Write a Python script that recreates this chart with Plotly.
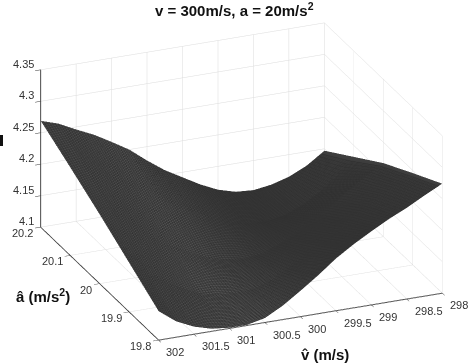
import plotly.graph_objects as go

title_text = "v = 300m/s, a = 20m/s<sup>2</sup>"
v_label = "v&#770; (m/s)"
a_label = "a&#770; (m/s<sup>2</sup>)"

v_values = [302, 301.75, 301.5, 301.25, 301, 300.75, 300.5, 300.25, 300, 299.75, 299.5, 299.25, 299, 298.75, 298.5, 298.25, 298]
a_values = [19.8, 19.9, 20.0, 20.1, 20.2]

z_a198 = [4.146, 4.125, 4.112, 4.104, 4.101, 4.101, 4.107, 4.122, 4.141, 4.161, 4.183, 4.201, 4.217, 4.232, 4.245, 4.26, 4.274]
z_a199 = [4.178, 4.158, 4.14, 4.124, 4.111, 4.104, 4.102, 4.104, 4.113, 4.128, 4.146, 4.164, 4.183, 4.2, 4.216, 4.232, 4.246]
z_a200 = [4.21, 4.195, 4.178, 4.16, 4.143, 4.127, 4.114, 4.105, 4.102, 4.104, 4.114, 4.128, 4.145, 4.163, 4.182, 4.2, 4.217]
z_a201 = [4.24, 4.229, 4.214, 4.198, 4.181, 4.165, 4.149, 4.135, 4.122, 4.112, 4.105, 4.103, 4.107, 4.118, 4.134, 4.156, 4.182]
z_a202 = [4.269, 4.26, 4.246, 4.233, 4.217, 4.2, 4.178, 4.158, 4.142, 4.126, 4.113, 4.105, 4.103, 4.107, 4.115, 4.128, 4.147]
z_rows = [z_a198, z_a199, z_a200, z_a201, z_a202]

# Grey level of the mesh across v, as it looks in the picture
mesh_shade = [72, 74, 76, 78, 82, 82, 78, 72, 66, 60, 56, 54, 54, 56, 58, 60, 62]

v_ticks = [302, 301.5, 301, 300.5, 300, 299.5, 299, 298.5, 298]
a_ticks = [19.8, 19.9, 20, 20.1, 20.2]
z_ticks = [4.1, 4.15, 4.2, 4.25, 4.3, 4.35]

v0, v1 = v_ticks[0], v_ticks[-1]
a0, a1 = a_ticks[0], a_ticks[-1]
z0, z1 = z_ticks[0], z_ticks[-1]

fig = go.Figure(go.Surface(
    x=v_values, y=a_values, z=z_rows,
    surfacecolor=[mesh_shade for _ in a_values], cmin=0, cmax=255,
    colorscale=[[0, "#000000"], [1, "#ffffff"]], showscale=False, hoverinfo="skip",
    lighting=dict(ambient=1, diffuse=0, specular=0, roughness=1, fresnel=0),
    contours=dict(
        x=dict(show=True, start=298.013, end=302, size=0.0407, color="#303030", width=1),
        y=dict(show=True, start=19.8013, end=20.2, size=0.00407, color="#303030", width=1),
    ),
))

def axis(rng, ticks):
    return dict(range=rng, tickmode="array", tickvals=ticks, showticklabels=False,
                showbackground=False, showgrid=True, gridcolor="#dcdcdc", gridwidth=1,
                showline=True, linecolor="#333333", linewidth=2, ticks="outside", ticklen=6, tickcolor="#333333",
                zeroline=False, showspikes=False, title=dict(text=""))

TICK = dict(family="Liberation Sans", size=11, color="#333333")
scene_notes = []
for t in z_ticks:
    scene_notes.append(dict(x=v0, y=a1, z=t, text=f"{t:g}", showarrow=False, xanchor="right", xshift=-4, yshift=6, font=TICK))
for t in a_ticks:
    scene_notes.append(dict(x=v0, y=t, z=z0, text=f"{t:g}", showarrow=False, xanchor="right", xshift=-5, yshift=-6, font=TICK))
for t in v_ticks:
    scene_notes.append(dict(x=t, y=a0, z=z0, text=f"{t:g}", showarrow=False, xanchor="left", xshift=6, yshift=-12, font=TICK))

fig.update_layout(
    width=474, height=363, margin=dict(l=0, r=0, t=0, b=0), paper_bgcolor="white", showlegend=False,
    font=dict(family="Liberation Sans", color="#111111"),
    scene=dict(
        domain=dict(x=[0.018, 1], y=[0, 1]),
        xaxis=axis([v0, v1], v_ticks),
        yaxis=axis([a0, a1], a_ticks),
        zaxis=axis([z0, z1], z_ticks),
        aspectmode="manual", aspectratio=dict(x=1.693, y=1.693, z=0.945),
        camera=dict(projection=dict(type="orthographic"), eye=dict(x=-0.352, y=-0.847, z=0.398),
                    up=dict(x=0, y=0, z=1), center=dict(x=0, y=0, z=0)),
        annotations=scene_notes,
    ),
    annotations=[
        dict(text=f"<b>{title_text}</b>", x=234.5/474, y=1-9/363, xref="paper", yref="paper", xanchor="center", yanchor="middle", showarrow=False, font=dict(size=15)),
        dict(text=f"<b>{a_label}</b>", x=14/474, y=1-295/363, xref="paper", yref="paper", xanchor="left", yanchor="middle", showarrow=False, font=dict(size=15)),
        dict(text=f"<b>{v_label}</b>", x=325/474, y=1-354/363, xref="paper", yref="paper", xanchor="center", yanchor="middle", showarrow=False, font=dict(size=15)),
    ],
    shapes=[dict(type="rect", xref="paper", yref="paper", x0=0, x1=3/474, y0=1-146/363, y1=1-135/363, fillcolor="#111111", line_width=0)],
)
fig.write_html("out.html", config=dict(displayModeBar=False), post_script="document.body.style.margin='0';")
